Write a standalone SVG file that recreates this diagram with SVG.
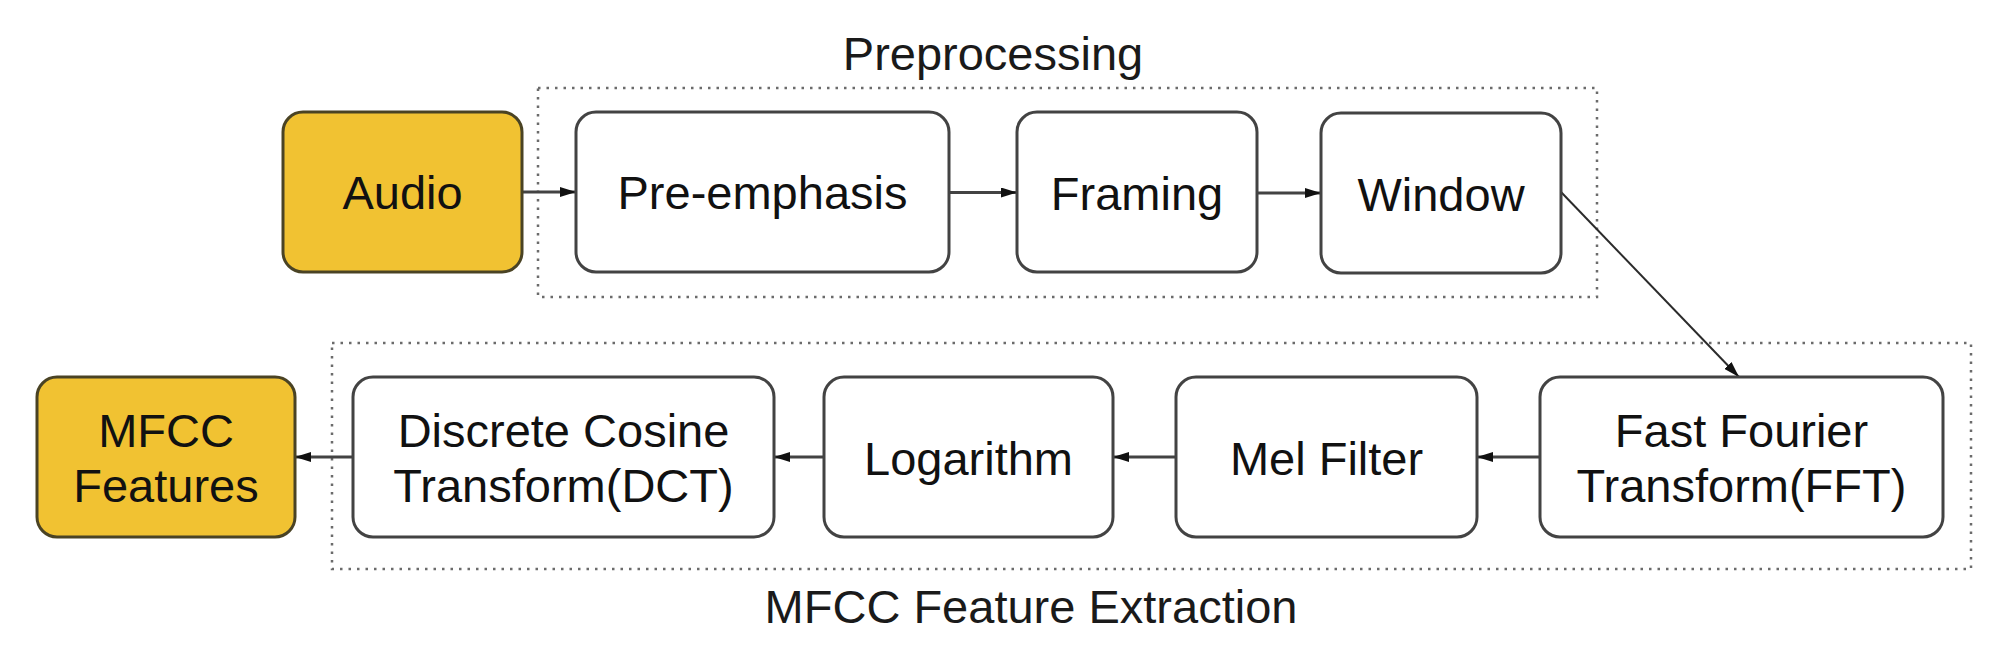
<svg xmlns="http://www.w3.org/2000/svg" width="1989" height="653" viewBox="0 0 1989 653">
<style>
.bg{fill:#ffffff}
.box{fill:#ffffff;stroke:#434343;stroke-width:3}
.yel{fill:#f1c232;stroke:#4a4324;stroke-width:3}
.grp{fill:none;stroke:#6b6b6b;stroke-width:2.5;stroke-dasharray:2.5 6}
.t{font-family:"Liberation Sans",Arial,sans-serif;font-size:47px;fill:#111;text-anchor:middle}
.lbl{font-family:"Liberation Sans",Arial,sans-serif;font-size:47px;fill:#1a1a1a;text-anchor:middle}
.c{fill:none;stroke:#434343;stroke-width:3}
.cd{fill:none;stroke:#2b2b2b;stroke-width:2}
</style>
<defs>
<marker id="ah" markerUnits="userSpaceOnUse" markerWidth="16" markerHeight="10" refX="16" refY="5" orient="auto">
<path d="M0,0 L16,5 L0,10 z" fill="#111"/>
</marker>
</defs>
<rect class="bg" x="0" y="0" width="1989" height="653"/>

<g id="group-preprocessing">
<rect class="grp" x="538" y="88" width="1059" height="209"/>
<text class="lbl" x="993" y="70">Preprocessing</text>
</g>
<g id="group-mfcc">
<rect class="grp" x="332" y="343" width="1639" height="226"/>
<text class="lbl" x="1031" y="623">MFCC Feature Extraction</text>
</g>

<g id="connectors">
<line class="c" x1="522" y1="192" x2="576" y2="192" marker-end="url(#ah)"/>
<line class="c" x1="949" y1="192.5" x2="1017" y2="192.5" marker-end="url(#ah)"/>
<line class="c" x1="1257" y1="193" x2="1321" y2="193" marker-end="url(#ah)"/>
<line class="cd" x1="1561" y1="192" x2="1739" y2="377" marker-end="url(#ah)"/>
<line class="c" x1="1540" y1="457" x2="1477" y2="457" marker-end="url(#ah)"/>
<line class="c" x1="1176" y1="457" x2="1113" y2="457" marker-end="url(#ah)"/>
<line class="c" x1="824" y1="457" x2="774" y2="457" marker-end="url(#ah)"/>
<line class="c" x1="353" y1="457" x2="295" y2="457" marker-end="url(#ah)"/>
</g>

<g id="node-audio">
<rect class="yel" x="283" y="112" width="239" height="160" rx="20"/>
<text class="t" x="402.5" y="209">Audio</text>
</g>
<g id="node-preemphasis">
<rect class="box" x="576" y="112" width="373" height="160" rx="20"/>
<text class="t" x="762.5" y="209">Pre-emphasis</text>
</g>
<g id="node-framing">
<rect class="box" x="1017" y="112" width="240" height="160" rx="20"/>
<text class="t" x="1137" y="210">Framing</text>
</g>
<g id="node-window">
<rect class="box" x="1321" y="113" width="240" height="160" rx="20"/>
<text class="t" x="1441" y="211">Window</text>
</g>

<g id="node-fft">
<rect class="box" x="1540" y="377" width="403" height="160" rx="20"/>
<text class="t" x="1741.5" y="447">Fast Fourier</text>
<text class="t" x="1741.5" y="502">Transform(FFT)</text>
</g>
<g id="node-mel">
<rect class="box" x="1176" y="377" width="301" height="160" rx="20"/>
<text class="t" x="1326.5" y="475">Mel Filter</text>
</g>
<g id="node-log">
<rect class="box" x="824" y="377" width="289" height="160" rx="20"/>
<text class="t" x="968.5" y="475">Logarithm</text>
</g>
<g id="node-dct">
<rect class="box" x="353" y="377" width="421" height="160" rx="20"/>
<text class="t" x="563.5" y="447">Discrete Cosine</text>
<text class="t" x="563.5" y="502">Transform(DCT)</text>
</g>
<g id="node-mfcc">
<rect class="yel" x="37" y="377" width="258" height="160" rx="20"/>
<text class="t" x="166" y="447">MFCC</text>
<text class="t" x="166" y="502">Features</text>
</g>
</svg>
